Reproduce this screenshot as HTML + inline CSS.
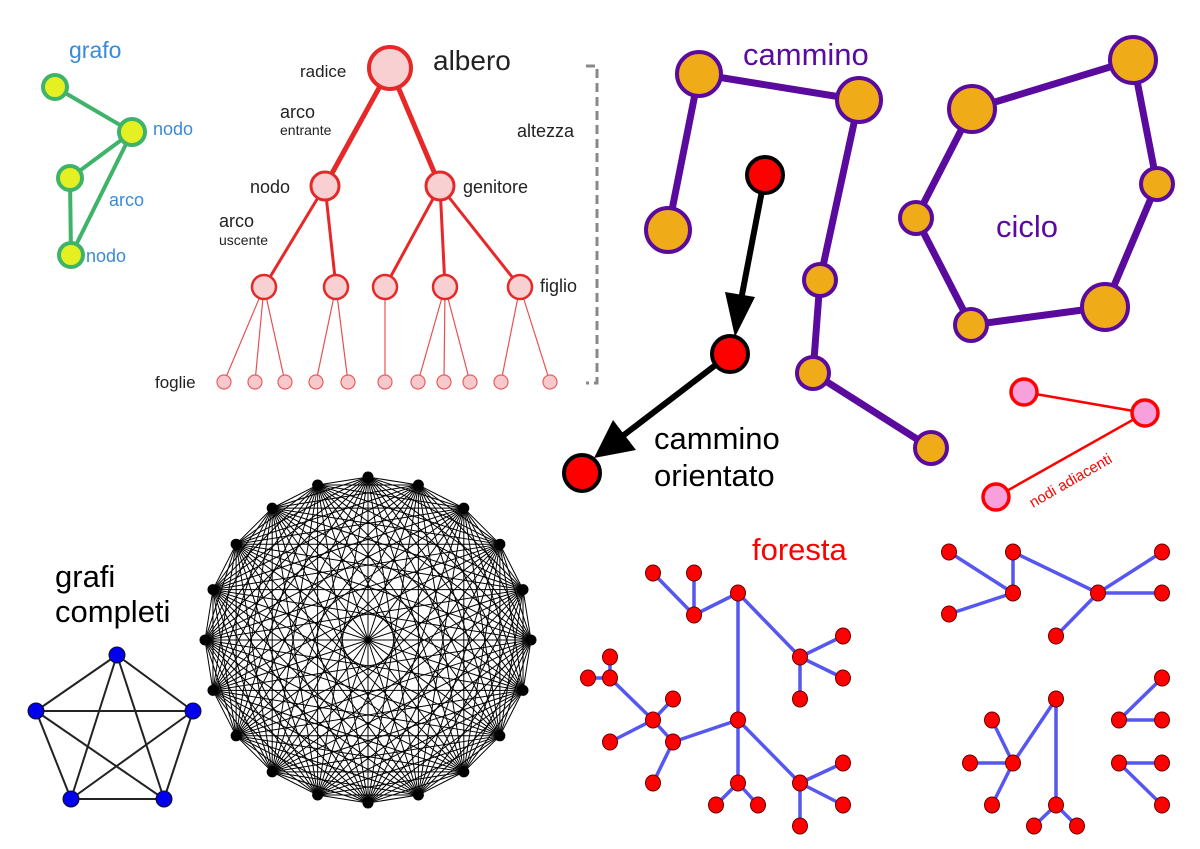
<!DOCTYPE html>
<html><head><meta charset="utf-8"><style>
html,body{margin:0;padding:0;background:#fff;width:1200px;height:849px;overflow:hidden}
svg{display:block}
text{font-family:"Liberation Sans",sans-serif}
</style></head><body>
<svg id="s" width="1200" height="849" viewBox="0 0 1200 849" xmlns="http://www.w3.org/2000/svg">
<!-- grafo -->
<g stroke="#3fb36a" stroke-width="4" fill="none">
<line x1="55" y1="87" x2="132" y2="132"/><line x1="132" y1="132" x2="70" y2="178"/>
<line x1="70" y1="178" x2="71" y2="255"/><line x1="132" y1="132" x2="71" y2="255"/>
</g>
<g stroke="#3fb36a" stroke-width="4" fill="#e4f022">
<circle cx="55" cy="87" r="12"/><circle cx="132" cy="132" r="13"/><circle cx="70" cy="178" r="12"/><circle cx="71" cy="255" r="12"/>
</g>
<g fill="#3a8ad8">
<text x="69" y="58" font-size="23">grafo</text>
<text x="153" y="135" font-size="18">nodo</text>
<text x="109" y="206" font-size="18">arco</text>
<text x="86" y="262" font-size="18">nodo</text>
</g>
<!-- albero -->
<g stroke="#e62828" fill="none">
<line x1="390" y1="68" x2="325" y2="186" stroke-width="5"/>
<line x1="390" y1="68" x2="440" y2="186" stroke-width="5"/>
<g stroke-width="3">
<line x1="325" y1="186" x2="264" y2="287"/><line x1="325" y1="186" x2="336" y2="287"/>
<line x1="440" y1="186" x2="385" y2="287"/><line x1="440" y1="186" x2="445" y2="287"/><line x1="440" y1="186" x2="520" y2="287"/>
</g>
<g stroke-width="1.2" stroke="#e85050">
<line x1="264" y1="287" x2="224" y2="382"/><line x1="264" y1="287" x2="255" y2="382"/><line x1="264" y1="287" x2="285" y2="382"/>
<line x1="336" y1="287" x2="316" y2="382"/><line x1="336" y1="287" x2="348" y2="382"/>
<line x1="385" y1="287" x2="385" y2="382"/>
<line x1="445" y1="287" x2="418" y2="382"/><line x1="445" y1="287" x2="444" y2="382"/><line x1="445" y1="287" x2="470" y2="382"/>
<line x1="520" y1="287" x2="501" y2="382"/><line x1="520" y1="287" x2="550" y2="382"/>
</g>
</g>
<g fill="#f9d0d2" stroke="#e62828">
<circle cx="390" cy="68" r="21" stroke-width="4"/>
<circle cx="325" cy="186" r="14" stroke-width="3"/><circle cx="440" cy="186" r="14" stroke-width="3"/>
<g stroke-width="2.5"><circle cx="264" cy="287" r="12"/><circle cx="336" cy="287" r="12"/><circle cx="385" cy="287" r="12"/><circle cx="445" cy="287" r="12"/><circle cx="520" cy="287" r="12"/></g>
<g stroke-width="1.2" stroke="#e86060" fill="#f7c8cc"><circle cx="224" cy="382" r="7"/><circle cx="255" cy="382" r="7"/><circle cx="285" cy="382" r="7"/><circle cx="316" cy="382" r="7"/><circle cx="348" cy="382" r="7"/><circle cx="385" cy="382" r="7"/><circle cx="418" cy="382" r="7"/><circle cx="444" cy="382" r="7"/><circle cx="470" cy="382" r="7"/><circle cx="501" cy="382" r="7"/><circle cx="550" cy="382" r="7"/></g>
</g>
<g fill="#222">
<text x="433" y="70" font-size="28">albero</text>
<text x="300" y="77" font-size="17">radice</text>
<text x="280" y="118" font-size="18">arco</text>
<text x="280" y="135" font-size="14">entrante</text>
<text x="250" y="193" font-size="18">nodo</text>
<text x="463" y="193" font-size="18">genitore</text>
<text x="219" y="227" font-size="18">arco</text>
<text x="219" y="245" font-size="14">uscente</text>
<text x="540" y="292" font-size="18">figlio</text>
<text x="155" y="388" font-size="17">foglie</text>
<text x="517" y="137" font-size="18">altezza</text>
</g>
<path d="M586 66 H597 V383 H586" fill="none" stroke="#888" stroke-width="3" stroke-dasharray="9 5"/>
<!-- cammino -->
<g stroke="#5b0a9e" stroke-width="7" fill="none" stroke-linejoin="round">
<polyline points="668,230 699,74 859,100 820,280 813,373 931,448"/>
<polygon points="972,109 1133,60 1157,184 1105,307 971,325 916,218"/>
</g>
<g stroke="#5b0a9e" stroke-width="4" fill="#f0ac18">
<circle cx="699" cy="74" r="22"/><circle cx="859" cy="100" r="22"/><circle cx="668" cy="230" r="22"/>
<circle cx="820" cy="280" r="16"/><circle cx="813" cy="373" r="16"/><circle cx="931" cy="448" r="16"/>
<circle cx="972" cy="109" r="23"/><circle cx="1133" cy="60" r="23"/><circle cx="1157" cy="184" r="16"/>
<circle cx="1105" cy="307" r="23"/><circle cx="971" cy="325" r="16"/><circle cx="916" cy="218" r="16"/>
</g>
<g fill="#5b0a9e">
<text x="743" y="65" font-size="31">cammino</text>
<text x="996" y="237" font-size="31">ciclo</text>
</g>
<!-- cammino orientato -->
<g stroke="#000" stroke-width="6" fill="none">
<line x1="765" y1="175" x2="741" y2="300"/>
<line x1="730" y1="354" x2="620" y2="438"/>
</g>
<polygon points="735,337 725,292 755,297" fill="#000"/>
<polygon points="594,458 613,420 636,450" fill="#000"/>
<g fill="#f00" stroke="#000" stroke-width="4">
<circle cx="765" cy="175" r="18"/><circle cx="730" cy="354" r="18"/><circle cx="582" cy="473" r="18"/>
</g>
<text x="654" y="449" font-size="31" fill="#000">cammino</text>
<text x="654" y="486" font-size="31" fill="#000">orientato</text>
<!-- nodi adiacenti -->
<g stroke="#f00" stroke-width="2.5"><line x1="1024" y1="392" x2="1145" y2="413"/><line x1="1145" y1="413" x2="996" y2="497"/></g>
<g stroke="#f00" stroke-width="3.5" fill="#f8a0dc"><circle cx="1024" cy="392" r="13"/><circle cx="1145" cy="413" r="13"/><circle cx="996" cy="497" r="13"/></g>
<text x="0" y="0" font-size="15" fill="#f00" transform="translate(1033,508) rotate(-30)">nodi adiacenti</text>
<!-- complete graphs -->
<g id="k20" stroke="#000" stroke-width="1" fill="none"></g>
<g id="k5" stroke="#222" stroke-width="2"></g>
<text x="55" y="587" font-size="31" fill="#000">grafi</text>
<text x="55" y="622" font-size="31" fill="#000">completi</text>
<!-- foresta -->
<text x="752" y="560" font-size="31" fill="#f00">foresta</text>
<g id="fe" stroke="#5656f0" stroke-width="3.5"></g>
<g id="fn" fill="#f00" stroke="#600" stroke-width="1"></g>
</svg>
<script>
var NS="http://www.w3.org/2000/svg";
function el(p,t,a){var e=document.createElementNS(NS,t);for(var k in a)e.setAttribute(k,a[k]);p.appendChild(e);return e;}
var s=document.getElementById('s');
// K20
var k=document.getElementById('k20'),P=[];
for(var i=0;i<20;i++){var a=-Math.PI/2+i*Math.PI/10;P.push([368+163*Math.cos(a),640+163*Math.sin(a)]);}
for(var i=0;i<20;i++)for(var j=i+1;j<20;j++)el(k,'line',{x1:P[i][0],y1:P[i][1],x2:P[j][0],y2:P[j][1]});
P.forEach(function(p){el(s,'circle',{cx:p[0],cy:p[1],r:5.5,fill:'#000'});});
// K5
var k5=document.getElementById('k5'),Q=[[117,655],[193,711],[164,799],[71,799],[36,711]];
for(var i=0;i<5;i++)for(var j=i+1;j<5;j++)el(k5,'line',{x1:Q[i][0],y1:Q[i][1],x2:Q[j][0],y2:Q[j][1]});
Q.forEach(function(p){el(s,'circle',{cx:p[0],cy:p[1],r:8,fill:'#0000ee',stroke:'#111','stroke-width':1});});
// forest
var N={A:[653,573],B:[694,573],C:[694,615],D:[738,593],E:[843,636],F:[800,657],G:[843,678],H:[800,699],I:[610,657],J:[588,678],K:[610,678],L:[673,699],M:[653,720],Nn:[738,720],O:[610,742],Pp:[673,742],Qq:[653,783],R:[738,783],S:[716,805],T:[758,805],U:[800,783],V:[843,763],W:[843,805],X:[800,826],
a:[949,552],b:[1013,552],c:[1162,552],d:[1013,593],e:[1098,593],f:[1162,593],g:[949,614],h:[1056,636],
i:[1162,678],j:[1056,699],k:[992,720],l:[1119,720],m:[1162,720],n:[970,763],o:[1013,763],p:[1119,763],q:[1162,763],r:[992,805],s:[1056,805],t:[1162,805],u:[1034,826],v:[1077,826]};
var E=[['A','C'],['B','C'],['C','D'],['D','F'],['F','E'],['F','G'],['F','H'],['D','Nn'],['I','K'],['J','K'],['K','M'],['M','L'],['M','O'],['M','Pp'],['Pp','Nn'],['Pp','Qq'],['Nn','R'],['R','S'],['R','T'],['Nn','U'],['U','V'],['U','W'],['U','X'],
['a','d'],['b','d'],['g','d'],['b','e'],['e','c'],['e','f'],['e','h'],['l','i'],['l','m'],['k','o'],['n','o'],['o','j'],['o','r'],['j','s'],['s','u'],['s','v'],['p','q'],['p','t']];
var fe=document.getElementById('fe'),fn=document.getElementById('fn');
E.forEach(function(x){var p=N[x[0]],q=N[x[1]];el(fe,'line',{x1:p[0],y1:p[1],x2:q[0],y2:q[1]});});
for(var key in N)el(fn,'ellipse',{cx:N[key][0],cy:N[key][1],rx:7.5,ry:8});
</script>
</body></html>
